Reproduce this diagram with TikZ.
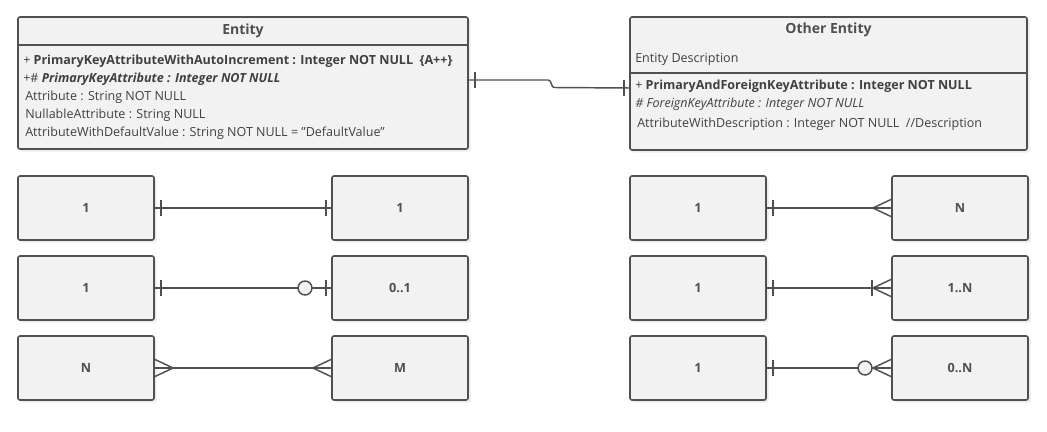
\documentclass[tikz,border=0pt]{standalone}
\usepackage{fontspec}
\setmainfont{Open Sans}
\usetikzlibrary{shadows,calc}
\definecolor{boxfill}{HTML}{F2F2F2}
\definecolor{boxline}{HTML}{505050}
\tikzset{%
    box/.style={inner sep=0pt,outer sep=0pt,shape=rectangle,draw=boxline,fill=boxfill,line width=1.2pt,rounded corners=1.5pt,drop shadow={opacity=0.15,shadow xshift=2pt,shadow yshift=-2pt}},
    small box/.style={box,minimum width=102pt,minimum height=48pt,font=\bfseries\fontsize{9.5}{11}\selectfont,text=boxline},
    link/.style={draw=boxline,line width=1.1pt},
    attr/.style={anchor=west,inner sep=0pt,font=\fontsize{9.4}{11}\selectfont,text=boxline!80!black},
    title/.style={inner sep=0pt,font=\bfseries\fontsize{10.5}{12}\selectfont,text=boxline},
}
\begin{document}
\begin{tikzpicture}[x=0.75pt,y=-0.75pt]
        \useasboundingbox (0,0) rectangle (1047,432);
        % entities
        \node[box,minimum width=337.5pt,minimum height=99pt] (ent) at (243,83) {};
        \draw[link] (18,45) -- (468,45);
        \node[title] (entT) at (243,31) {Entity};
        \node[attr] (a1) at (23,61) {+ \textbf{PrimaryKeyAttributeWithAutoIncrement : Integer NOT NULL~~\{A++\}}};
        \node[attr] (a2) at (23,79) {+\# \textbf{\itshape PrimaryKeyAttribute : Integer NOT NULL}};
        \node[attr] (a3) at (25,97) {Attribute : String NOT NULL};
        \node[attr] (a4) at (25,115) {NullableAttribute : String NULL};
        \node[attr] (a5) at (25,133) {AttributeWithDefaultValue : String NOT NULL = "DefaultValue"};

        \node[box,minimum width=297.75pt,minimum height=99.75pt] (oth) at (828.5,83.5) {};
        \draw[link] (630,73) -- (1027,73);
        \node[title] (othT) at (828.5,30) {Other Entity};
        \node[attr] (b0) at (635,59) {Entity Description};
        \node[attr] (b1) at (635,86) {+ \textbf{PrimaryAndForeignKeyAttribute : Integer NOT NULL}};
        \node[attr] (b2) at (635,104) {\itshape \# ForeignKeyAttribute : Integer NOT NULL};
        \node[attr] (b3) at (637,124) {AttributeWithDescription : Integer NOT NULL~~//Description};

        \coordinate (p1) at ($(ent.east)+(0,-3)$);
        \coordinate (p2) at ($(oth.west)+(0,4.5)$);
        \draw[link] (p1) -- ++(80,0) .. controls ++(4,0) and ++(-3,0) .. ++(6,7.5) -- (p2);
        \draw[link] ($(p1)+(7,-8)$) -- ++(0,16);
        \draw[link] ($(p2)+(-6,-8)$) -- ++(0,16);

        % cardinalities
        \foreach \nm/\x/\y/\txt in {l1/86/208/1,r1/400/208/1,l2/86/288/1,r2/400/288/0..1,l3/86/368/N,r3/400/368/M,
                                   l4/698/208/1,r4/960/208/N,l5/698/288/1,r5/960/288/1..N,l6/698/368/1,r6/960/368/0..N}
            \node[small box] (\nm) at (\x,\y) {\txt};

        \foreach \a/\b in {l1/r1,l2/r2,l3/r3,l4/r4,l5/r5,l6/r6}
            \draw[link] (\a.east) -- (\b.west);

        % one marks
        \foreach \a in {l1,l2,l4,l5,l6}
            \draw[link] ($(\a.east)+(7,-8)$) -- ++(0,16);
        \draw[link] ($(r1.west)+(-6,-8)$) -- ++(0,16);
        \draw[link] ($(r2.west)+(-6,-8)$) -- ++(0,16);
        \draw[link,fill=boxfill] ($(r2.west)+(-27,0)$) circle (7);
        \draw[link] ($(r5.west)+(-20,-8)$) -- ++(0,16);
        \draw[link,fill=boxfill] ($(r6.west)+(-27,0)$) circle (7);

        % many marks
        \foreach \a in {r3,r4,r5,r6}
            \draw[link] ($(\a.west)+(0,-9)$) -- ++(-19,9) -- ++(19,9);
        \draw[link] ($(l3.east)+(0,-9)$) -- ++(19,9) -- ++(-19,9);
    \end{tikzpicture}
\end{document}
